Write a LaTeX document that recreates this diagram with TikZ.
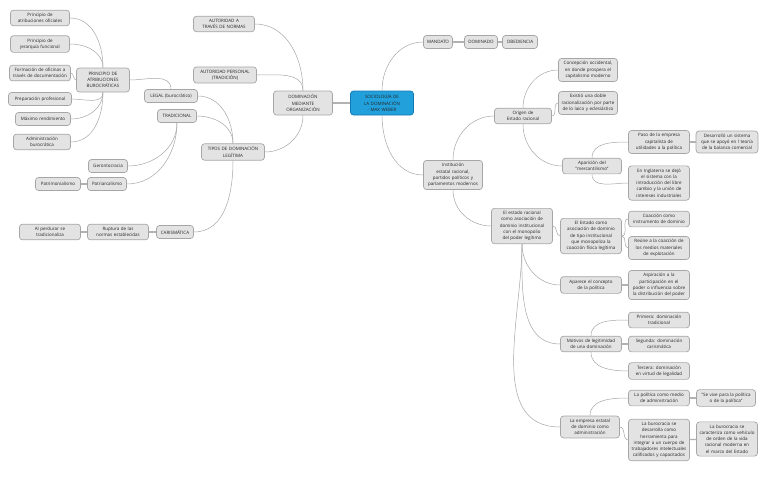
\documentclass[tikz,border=0pt]{standalone}
\usepackage{fontspec}
\setmainfont{Open Sans}
\newcommand\mynohyph{\hyphenpenalty10000\relax\exhyphenpenalty10000\relax}
\begin{document}
\begin{tikzpicture}[x=1pt,y=-1pt,
  box/.style={draw=gray!70,fill=gray!22,rounded corners=3pt,line width=0.7pt,align=center,inner xsep=2.5pt,inner ysep=3pt,font=\fontsize{4.5}{6.2}\selectfont\mynohyph,text=black!85,text width=#1,minimum height=13pt},
  box/.default=50pt,
  rootbox/.style={box=58pt,fill={rgb,255:red,33;green,160;blue,220},draw={rgb,255:red,20;green,120;blue,180},minimum height=24pt},
  link/.style={draw=gray!70,line width=0.5pt},
  chain/.style={draw=gray!60,line width=1.2pt}]
\useasboundingbox (0,0) rectangle (768,477);
% root and right
\node[rootbox] (root) at (382,103) {SOCIOLOGÍA DE LA DOMINACIÓN - MAX WEBER};
\node[box=54pt,minimum height=24pt] (dom) at (303,103) {DOMINACIÓN\\ MEDIANTE\\ ORGANIZACIÓN};
\node[box=24pt] (mand) at (438,42) {MANDATO};
\node[box=28pt] (domi) at (481,42) {DOMINADO};
\node[box=30pt] (obed) at (520,42) {OBEDIENCIA};
\node[box=54pt] (inst) at (453,175) {Institución estatal racional, partidos políticos y parlamentos modernos};
\node[box=52pt] (orig) at (523,116) {Origen de Estado racional};
\node[box=54pt] (conc) at (588,70) {Concepción occidental, en donde prospera el capitalismo moderno};
\node[box=54pt] (exis) at (588,103) {Existió una doble racionalización por parte de lo laico y eclesiástico};
\node[box=54pt] (apar) at (592,166) {Aparición del "mercantilismo"};
\node[box=56pt] (paso) at (659,142) {Paso de la empresa capitalista de utilidades a la política};
\node[box=57pt] (desa) at (727,142) {Desarrolló un sistema que se apoyó en l teoría de la balanza comercial};
\node[box=56pt] (ingl) at (659,183) {En Inglaterra se dejó el sistema con la introducción del libre cambio y la unión de intereses industriales};
\node[box=56pt] (esta) at (522,226) {El estado racional como asociación de dominio institucional con el monopolio del poder legítimo};
\node[box=56pt] (est2) at (591,236) {El Estado como asociación de dominio de tipo institucional que monopoliza la coacción física legítima};
\node[box=56pt] (coac) at (659,219) {Coacción como instrumento de dominio};
\node[box=56pt] (reun) at (659,248) {Reúne a la coacción de los medios materiales de explotación};
\node[box=56pt] (apce) at (591,285) {Aparece el concepto de la política};
\node[box=56pt] (aspi) at (659,285) {Aspiración a la participación en el poder o influencia sobre la distribución del poder};
\node[box=56pt] (moti) at (591,344) {Motivos de legitimidad de una dominación};
\node[box=56pt] (prim) at (659,320) {Primera: dominación tradicional};
\node[box=56pt] (segu) at (659,344) {Segunda: dominación carismática};
\node[box=56pt] (terc) at (659,371) {Tercera: dominación en virtud de legalidad};
\node[box=54pt] (empr) at (590,427) {La empresa estatal de dominio como administración};
\node[box=56pt] (poli) at (659,398) {La política como medio de administración};
\node[box=54pt] (sevi) at (726,398) {"Se vive para la política o de la política"};
\node[box=56pt] (buro) at (659,440) {La burocracia se desarrolla como herramienta para integrar a un cuerpo de trabajadores intelectuales calificados y capacitados};
\node[box=56pt] (bur2) at (727,439) {La burocracia se caracteriza como vehículo de orden de la vida racional moderna en el marco del Estado};
% left
\node[box=56pt] (aut1) at (224,24) {AUTORIDAD A TRAVÉS DE NORMAS};
\node[box=58pt] (aut2) at (225,75) {AUTORIDAD PERSONAL (TRADICIÓN)};
\node[box=58pt] (tipo) at (233,152) {TIPOS DE DOMINACIÓN LEGÍTIMA};
\node[box=48pt] (lega) at (171,96) {LEGAL (burocrático)};
\node[box=34pt] (trad) at (177,116) {TRADICIONAL};
\node[box=48pt,minimum height=24pt] (prin) at (103,80) {PRINCIPIO DE ATRIBUCIONES BUROCRÁTICAS};
\node[box=54pt] (p1) at (40,18) {Principio de atribuciones oficiales};
\node[box=54pt] (p2) at (40,44) {Principio de jerarquía funcional};
\node[box=56pt] (p3) at (40,73) {Formación de oficinas a través de documentación};
\node[box=58pt] (p4) at (40,99) {Preparación profesional};
\node[box=50pt] (p5) at (43,119) {Máximo rendimiento};
\node[box=52pt] (p6) at (42,142) {Administración burocrática};
\node[box=34pt] (gero) at (108,166) {Gerontocracia};
\node[box=34pt] (patr) at (107,184) {Patriarcalismo};
\node[box=40pt] (ptmo) at (58,184) {Patrimonialismo};
\node[box=32pt] (cari) at (175,232) {CARISMÁTICA};
\node[box=56pt] (rupt) at (118,232) {Ruptura de las normas establecidas};
\node[box=56pt] (perd) at (50,232) {Al perdurar se tradicionaliza};
% connectors right
\draw[chain] (root) -- (dom);
\draw[link] (root.north) to[out=90,in=180] (mand.west);
\draw[chain] (mand) -- (domi); \draw[chain] (domi) -- (obed);
\draw[link] (root.south) to[out=270,in=180] (inst.west);
\draw[link] (inst.north) to[out=90,in=180] (orig.west);
\draw[link] (inst.south) to[out=270,in=180] (esta.west);
\draw[link] (orig.north) to[out=90,in=180] (conc.west);
\draw[link] (orig.east) to[out=0,in=180] (exis.west);
\draw[link] (orig.south) to[out=270,in=180] (apar.west);
\draw[link] (apar.north) to[out=90,in=180] (paso.west);
\draw[link] (apar.south) to[out=270,in=180] (ingl.west);
\draw[chain] (paso) -- (desa);
\draw[link] (esta.east) to[out=0,in=180] (est2.west);
\draw[link] (esta.south) to[out=270,in=180] (apce.west);
\draw[link] (esta.south) to[out=270,in=180] (moti.west);
\draw[link] (esta.south) to[out=270,in=180] (empr.west);
\draw[link] (est2.east) to[out=0,in=180] (coac.west);
\draw[link] (est2.east) to[out=0,in=180] (reun.west);
\draw[chain] (apce) -- (aspi);
\draw[link] (moti.north) to[out=90,in=180] (prim.west);
\draw[chain] (moti) -- (segu);
\draw[link] (moti.south) to[out=270,in=180] (terc.west);
\draw[link] (empr.north) to[out=90,in=180] (poli.west);
\draw[link] (empr.east) to[out=0,in=180] (buro.west);
\draw[chain] (poli) -- (sevi);
\draw[chain] (buro) -- (bur2);
% connectors left
\draw[link] (dom.north) to[out=90,in=0] (aut1.east);
\draw[link] (dom.north) to[out=90,in=0] (aut2.east);
\draw[link] (dom.south) to[out=270,in=0] (tipo.east);
\draw[link] (tipo.north) to[out=90,in=0] (lega.east);
\draw[link] (tipo.north) to[out=90,in=0] (trad.east);
\draw[link] (tipo.south) to[out=270,in=0] (cari.east);
\draw[link] (lega.north) to[out=90,in=0] (prin.east);
\draw[link] (prin.north) to[out=90,in=0] (p1.east);
\draw[link] (prin.north) to[out=90,in=0] (p2.east);
\draw[link] (prin.west) to[out=180,in=0] (p3.east);
\draw[link] (prin.south) to[out=270,in=0] (p4.east);
\draw[link] (prin.south) to[out=270,in=0] (p5.east);
\draw[link] (prin.south) to[out=270,in=0] (p6.east);
\draw[link] (trad.south) to[out=270,in=0] (gero.east);
\draw[link] (trad.south) to[out=270,in=0] (patr.east);
\draw[chain] (patr) -- (ptmo);
\draw[chain] (cari) -- (rupt); \draw[chain] (rupt) -- (perd);
\end{tikzpicture}
\end{document}
